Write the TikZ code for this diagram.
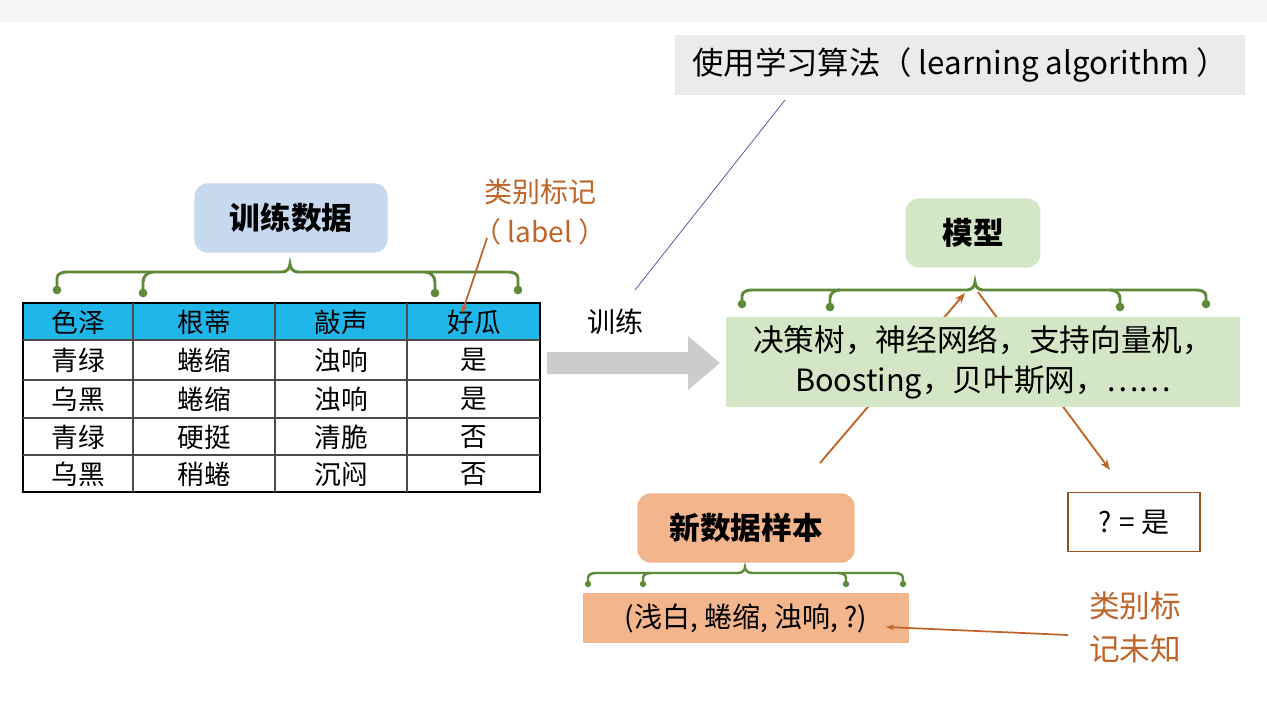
\documentclass[tikz,border=0pt]{standalone}
\usepackage{fontspec}
\setmainfont{Noto Sans CJK SC}
\usetikzlibrary{arrows.meta}
\definecolor{brc}{HTML}{5E8A3A}
\definecolor{org}{HTML}{C0652A}
\definecolor{blu}{HTML}{C6D9EE}
\definecolor{grn}{HTML}{D3E7C7}
\definecolor{pch}{HTML}{F2B58C}
\definecolor{cyn}{HTML}{1FB6EA}
\tikzset{
  ttl/.style={font=\bfseries\fontsize{23}{27}\selectfont},
  cell/.style={font=\fontsize{20}{24}\selectfont},
  otxt/.style={text=org,font=\fontsize{21}{30}\selectfont,align=center},
  brace/.style={draw=brc,line width=2.2pt},
  bdot/.style={fill=brc,circle,inner sep=2.3pt},
  oarr/.style={draw=org,line width=1.4pt,-{Stealth[length=8pt]}}
}
\newcommand{\mybrace}[5]{% x1 x2 xm ytop ybot
  \draw[brace] (#1,#5) -- (#1,#4+6) to[out=90,in=180] (#1+10,#4) -- (#3-8,#4) to[out=0,in=-90] (#3,#4-8) to[out=-90,in=180] (#3+8,#4) -- (#2-10,#4) to[out=0,in=90] (#2,#4+6) -- (#2,#5);
  \node[bdot] at (#1,#5) {};\node[bdot] at (#2,#5) {};
}
\begin{document}
\begin{tikzpicture}[x=0.75pt,y=-0.75pt]
\useasboundingbox (0,0) rectangle (1267,726);
\fill[white] (0,0) rectangle (1267,726);
\fill[black!4] (0,0) rectangle (1267,22);
% top box
\node[fill=black!8,minimum width=428pt,minimum height=45pt,font=\fontsize{23.5}{27}\selectfont] (alg) at (960,65) {使用学习算法（ learning algorithm ）};
\coordinate (ta) at (785,100);
\coordinate (tb) at (635,290);
\draw[color=blue!30!gray,line width=0.6pt] (ta) -- (tb);
% training data title
\node[fill=blu,ttl,minimum width=145pt,minimum height=52pt,rounded corners=10pt] (td) at (291,218) {训练数据};
\mybrace{57}{518}{290}{272}{290}
\draw[brace] (143,293) -- (143,282) to[out=90,in=180] (153,272); \node[bdot] at (143,293) {};
\draw[brace] (435,293) -- (435,282) to[out=90,in=0] (425,272); \node[bdot] at (435,293) {};
% table
\fill[cyn] (23,303) rectangle (540,340);
\draw[line width=1.2pt] (23,303) rectangle (540,492);
\foreach \y in {340,380,418,455} \draw[line width=0.9pt,black!70] (23,\y) -- (540,\y);
\foreach \x in {133,275,407} \draw[line width=0.9pt,black!70] (\x,303) -- (\x,492);
\node[cell] (h1) at (78,322) {色泽};\node[cell] (h2) at (204,322) {根蒂};\node[cell] (h3) at (341,322) {敲声};\node[cell] (h4) at (474,322) {好瓜};
\node[cell] (r11) at (78,360) {青绿};\node[cell] (r12) at (204,360) {蜷缩};\node[cell] (r13) at (341,360) {浊响};\node[cell] (r14) at (474,360) {是};
\node[cell] (r21) at (78,399) {乌黑};\node[cell] (r22) at (204,399) {蜷缩};\node[cell] (r23) at (341,399) {浊响};\node[cell] (r24) at (474,399) {是};
\node[cell] (r31) at (78,437) {青绿};\node[cell] (r32) at (204,437) {硬挺};\node[cell] (r33) at (341,437) {清脆};\node[cell] (r34) at (474,437) {否};
\node[cell] (r41) at (78,474) {乌黑};\node[cell] (r42) at (204,474) {稍蜷};\node[cell] (r43) at (341,474) {沉闷};\node[cell] (r44) at (474,474) {否};
% label
\node[otxt] (lab) at (540,212) {类别标记\\（ label ）};
\coordinate (labp) at (462,313);
\draw[org,line width=1.3pt,-{Stealth[length=6pt]}] (487,238) -- (labp);
% train arrow
\node[font=\fontsize{21}{24}\selectfont] (tr) at (615,322) {训练};
\fill[black!20] (547,352) -- (688,352) -- (688,336) -- (720,363) -- (688,390) -- (688,374) -- (547,374) -- cycle;
% model
\node[fill=grn,ttl,minimum width=101pt,minimum height=52pt,rounded corners=10pt] (mod) at (973,233) {模型};
\coordinate (mt) at (965,293);
\coordinate (ns) at (820,463);
\coordinate (m2) at (978,292);
\coordinate (res) at (1110,470);
\draw[oarr] (ns) -- (mt);
\draw[oarr] (m2) -- (res);
\mybrace{742}{1206}{975}{290}{304}
\draw[brace] (830,307) -- (830,298) to[out=90,in=180] (840,290); \node[bdot] at (830,307) {};
\draw[brace] (1120,307) -- (1120,298) to[out=90,in=0] (1110,290); \node[bdot] at (1120,307) {};
\node[fill=grn,minimum width=385pt,minimum height=68pt,align=center,font=\fontsize{23}{30}\selectfont] (alg2) at (983,362) {决策树，神经网络，支持向量机，\\Boosting，贝叶斯网，……};
% result
\node[draw=org!80!black,line width=1pt,minimum width=99pt,minimum height=44pt,font=\fontsize{21}{24}\selectfont,fill=white] (q) at (1134,522) {? = 是};
% new sample
\node[fill=pch,ttl,minimum width=163pt,minimum height=52pt,rounded corners=10pt] (nd) at (746,528) {新数据样本};
\draw[brc,line width=1.8pt] (588,583) -- (588,578) to[out=90,in=180] (596,573) -- (738,573) to[out=0,in=-90] (745,567) to[out=-90,in=180] (752,573) -- (895,573) to[out=0,in=90] (903,578) -- (903,583);
\foreach \x in {588,643,846,903}\node[fill=brc,circle,inner sep=1.7pt] at (\x,584) {};
\draw[brc,line width=1.8pt] (643,583) -- (643,578) to[out=90,in=180] (651,573);
\draw[brc,line width=1.8pt] (846,583) -- (846,578) to[out=90,in=0] (838,573);
\node[fill=pch,minimum width=245pt,minimum height=38pt,font=\fontsize{21}{24}\selectfont] (ns2) at (746,618) {(浅白, 蜷缩, 浊响, ?)};
\node[otxt,font=\fontsize{23}{32}\selectfont] (unk) at (1135,627) {类别标\\记未知};
\coordinate (ua) at (1068,635);
\coordinate (ub) at (886,627);
\draw[org,line width=1.3pt,-{Stealth[length=6pt]}] (ua) -- (ub);
\end{tikzpicture}
\end{document}
